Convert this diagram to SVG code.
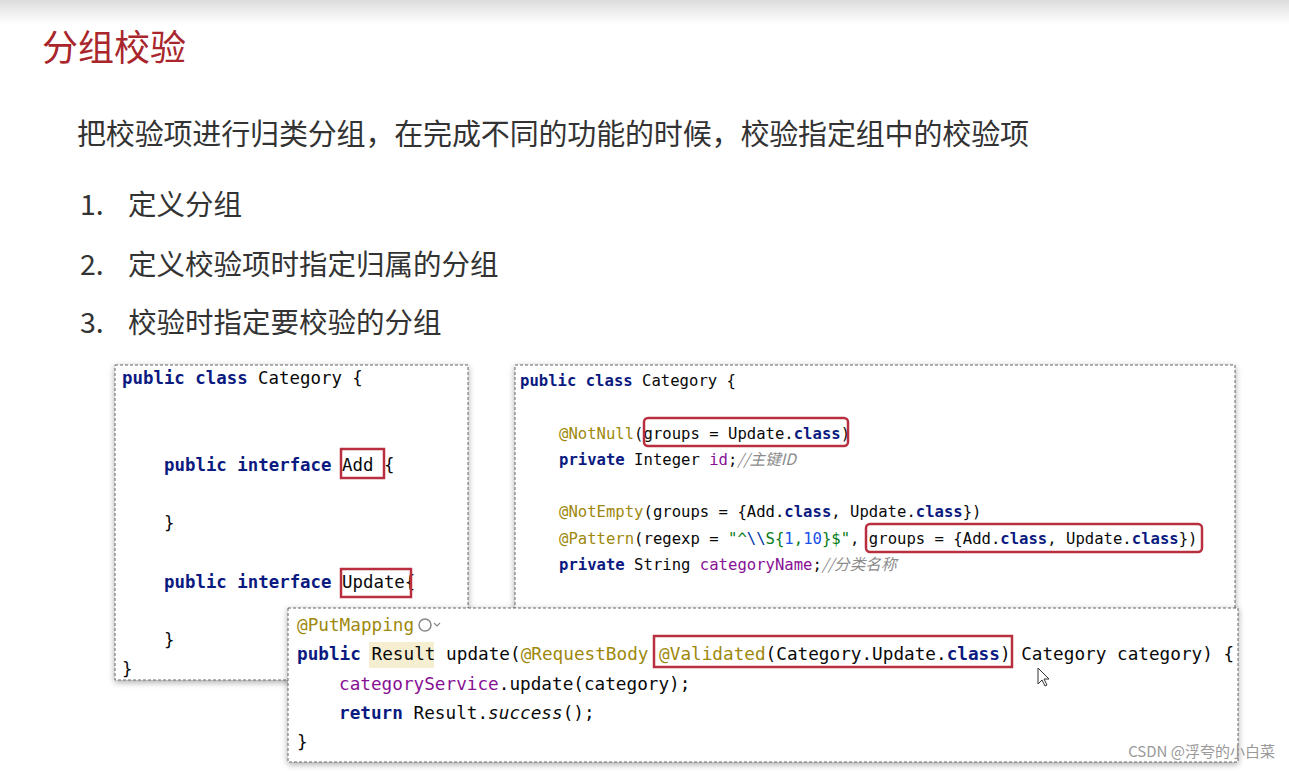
<svg xmlns="http://www.w3.org/2000/svg" width="1289" height="771" viewBox="0 0 1289 771">
<defs>
<linearGradient id="top" x1="0" y1="0" x2="0" y2="1"><stop offset="0" stop-color="#dcdcdc"/><stop offset="1" stop-color="#ffffff"/></linearGradient>
<filter id="sh" x="-5%" y="-5%" width="110%" height="115%"><feDropShadow dx="0" dy="2" stdDeviation="3" flood-color="#000" flood-opacity="0.35"/></filter>
</defs>
<style>
.cjk{font-family:"Noto Sans CJK SC","Noto Sans",sans-serif}
.code{font-family:"DejaVu Sans Mono","Liberation Mono",monospace;fill:#080808}
.kw{fill:#0b1a80;font-weight:bold}
.an{fill:#9e880d}
.st{fill:#067d17}
.pu{fill:#871094}
.cm{fill:#8c8c8c;font-style:italic;font-family:"Noto Sans CJK SC",sans-serif}
.box{fill:#fff;stroke:#666;stroke-dasharray:3 2;stroke-width:1}
.hl{fill:none;stroke:#b8303f;stroke-width:2.5}
</style>
<rect width="1289" height="771" fill="#fff"/>
<rect width="1289" height="24" fill="url(#top)"/>
<text x="42" y="61" class="cjk" font-size="36" fill="#a8262c">分组校验</text>
<text x="77" y="145" class="cjk" font-size="29" fill="#333" textLength="952">把校验项进行归类分组，在完成不同的功能的时候，校验指定组中的校验项</text>
<g class="cjk" font-size="28.5" fill="#333">
<text x="80" y="215">1.</text><text x="128" y="215">定义分组</text>
<text x="80" y="275">2.</text><text x="128" y="275">定义校验项时指定归属的分组</text>
<text x="80" y="333">3.</text><text x="128" y="333">校验时指定要校验的分组</text>
</g>
<g id="left-code">
<rect x="115" y="365" width="353" height="315" class="box" filter="url(#sh)"/>
<g class="code" font-size="17.4">
<text x="122" y="384"><tspan class="kw">public class</tspan> Category {</text>
<text x="164" y="471"><tspan class="kw">public interface</tspan> Add {</text>
<text x="164" y="529">}</text>
<text x="164" y="588"><tspan class="kw">public interface</tspan> Update{</text>
<text x="164" y="646">}</text>
<text x="122" y="675">}</text>
</g>
<rect x="341" y="449" width="43" height="29" class="hl" stroke="#e0202e"/>
<rect x="341" y="569" width="70" height="28" class="hl" stroke="#e0202e"/>
</g>
<g id="right-code">
<rect x="515" y="365" width="720" height="250" class="box" filter="url(#sh)"/>
<g class="code" font-size="15.6">
<text x="520" y="386"><tspan class="kw">public class</tspan> Category {</text>
<text x="559" y="439"><tspan class="an">@NotNull</tspan>(groups = Update.<tspan class="kw">class</tspan>)</text>
<text x="559" y="465"><tspan class="kw">private</tspan> Integer <tspan class="pu">id</tspan>;<tspan class="cm">//主键ID</tspan></text>
<text x="559" y="517"><tspan class="an">@NotEmpty</tspan>(groups = {Add.<tspan class="kw">class</tspan>, Update.<tspan class="kw">class</tspan>})</text>
<text x="559" y="544"><tspan class="an">@Pattern</tspan>(regexp = <tspan class="st">"^</tspan><tspan fill="#0037a6">\\</tspan><tspan class="st">S{</tspan><tspan fill="#1750eb">1</tspan><tspan class="st">,</tspan><tspan fill="#1750eb">10</tspan><tspan class="st">}$"</tspan>, groups = {Add.<tspan class="kw">class</tspan>, Update.<tspan class="kw">class</tspan>})</text>
<text x="559" y="570"><tspan class="kw">private</tspan> String <tspan class="pu">categoryName</tspan>;<tspan class="cm">//分类名称</tspan></text>
</g>
<rect x="644" y="418" width="204" height="28" rx="4" class="hl"/>
<rect x="866" y="524" width="336" height="28" rx="4" class="hl"/>
</g>
<g id="bottom-code">
<rect x="288" y="608" width="950" height="154" class="box" filter="url(#sh)"/>
<rect x="369" y="642" width="65" height="26" fill="#f5eed0"/>
<g class="code" font-size="17.7">
<text x="297" y="631"><tspan class="an">@PutMapping</tspan></text>
<text x="297" y="660"><tspan class="kw">public</tspan> Result update(<tspan class="an">@RequestBody</tspan> <tspan class="an">@Validated</tspan>(Category.Update.<tspan class="kw">class</tspan>) Category category) {</text>
<text x="339" y="690"><tspan class="pu">categoryService</tspan>.update(category);</text>
<text x="339" y="719"><tspan class="kw">return</tspan> Result.<tspan font-style="italic">success</tspan>();</text>
<text x="297" y="748">}</text>
</g>
<circle cx="425" cy="625" r="6" fill="none" stroke="#888" stroke-width="1.5"/>
<path d="M434 623 l3 3 l3 -3" fill="none" stroke="#888" stroke-width="1.2"/>
<rect x="654" y="636" width="358" height="31" class="hl" stroke="#e0202e"/>
<path d="M1038 668 v16 l4 -4 l3 6 l2 -1 l-3 -6 h5 z" fill="#fff" stroke="#333" stroke-width="1"/>
</g>
<text x="1275" y="757" class="cjk" font-size="15" fill="#999" text-anchor="end">CSDN @浮夸的小白菜</text>
</svg>
